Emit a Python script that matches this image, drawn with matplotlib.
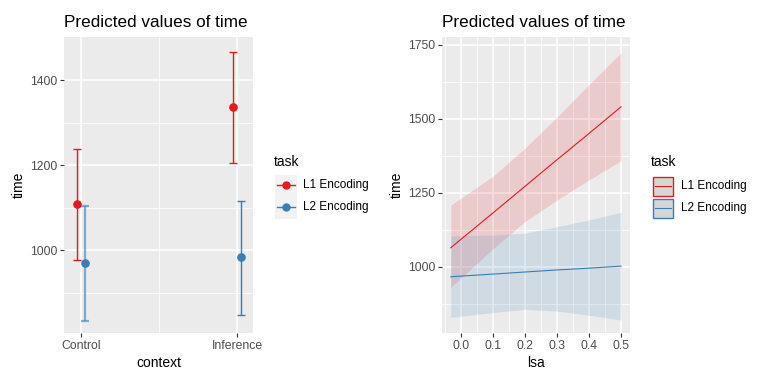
import matplotlib
matplotlib.use('Agg')
import matplotlib.pyplot as plt
from matplotlib.patches import Rectangle
from matplotlib.lines import Line2D
from matplotlib.ticker import FixedLocator

plt.rcParams['font.family'] = ['Liberation Sans', 'DejaVu Sans']

# datos panel izquierdo (context)
contexts = ['Control', 'Inference']
tasks = ['L1 Encoding', 'L2 Encoding']
colors = ['#E41A1C', '#377EB8']
pred = [[1108, 1336], [970, 984]]
ci_low = [[976, 1205], [834, 848]]
ci_high = [[1238, 1467], [1105, 1116]]

# datos panel derecho (lsa)
lsa = [-0.031, 0.1, 0.2, 0.3, 0.4, 0.5]
fit_l1 = [1064, 1181, 1271, 1361, 1450, 1540]
up_l1 = [1208, 1305, 1400, 1505, 1615, 1723]
lo_l1 = [930, 1060, 1152, 1225, 1293, 1358]
fit_l2 = [966, 975, 982, 989, 995, 1002]
up_l2 = [1104, 1107, 1113, 1135, 1158, 1184]
lo_l2 = [829, 845, 856, 850, 836, 820]

W, H = 768, 384
fig = plt.figure(figsize=(W / 100, H / 100), dpi=100)


def rect(x0, y0, x1, y1):
    # pixeles -> fraccion de figura
    return [x0 / W, 1 - y1 / H, (x1 - x0) / W, (y1 - y0) / H]


def estilo(ax):
    ax.set_facecolor('#EBEBEB')
    for s in ax.spines.values():
        s.set_visible(False)
    ax.grid(True, which='major', color='white', lw=1.1)
    ax.grid(True, which='minor', color='white', lw=0.55)
    ax.set_axisbelow(True)
    ax.tick_params(which='major', length=3, width=0.8, color='#333333',
                   labelsize=8.8, labelcolor='#4D4D4D', pad=2)
    ax.tick_params(which='minor', length=0)


# ---- panel izquierdo ----
ax1 = fig.add_axes(rect(64, 37, 253, 333))
estilo(ax1)
dodge = [-0.026, 0.026]
for i, t in enumerate(tasks):
    for j in range(len(contexts)):
        x = j + 1 + dodge[i]
        err = [[pred[i][j] - ci_low[i][j]], [ci_high[i][j] - pred[i][j]]]
        # la barra L2/Control sale mas clara y ancha en el original
        suave = (i == 1 and j == 0)
        ax1.errorbar([x], [pred[i][j]], yerr=err, fmt='none', ecolor=colors[i],
                     elinewidth=1.6 if suave else 1.0, capsize=2.7,
                     capthick=1.6 if suave else 1.0, alpha=0.6 if suave else 1.0)
        ax1.plot([x], [pred[i][j]], 'o', color=colors[i], ms=5.2)
ax1.set_xlim(0.891, 2.10)
ax1.set_ylim(805, 1502)
ax1.set_xticks([1, 2])
ax1.set_xticklabels(contexts)
ax1.xaxis.set_minor_locator(FixedLocator([1.5]))
ax1.set_yticks([1000, 1200, 1400])
ax1.yaxis.set_minor_locator(FixedLocator([900, 1100, 1300]))
ax1.set_xlabel('context', fontsize=10, labelpad=3)
ax1.set_ylabel('time', fontsize=10, labelpad=3)
ax1.set_title('Predicted values of time', loc='left', fontsize=12.3, pad=7)

# ---- panel derecho ----
ax2 = fig.add_axes(rect(442.3, 36.7, 630, 333.3))
estilo(ax2)
ax2.fill_between(lsa, lo_l1, up_l1, color=colors[0], alpha=0.15, lw=0)
ax2.fill_between(lsa, lo_l2, up_l2, color=colors[1], alpha=0.15, lw=0)
ax2.plot(lsa, fit_l1, color=colors[0], lw=0.8)
ax2.plot(lsa, fit_l2, color=colors[1], lw=0.8)
ax2.set_xlim(-0.0574, 0.528)
ax2.set_ylim(775, 1777)
ax2.set_xticks([0, 0.1, 0.2, 0.3, 0.4, 0.5])
ax2.set_xticklabels(['0.0', '0.1', '0.2', '0.3', '0.4', '0.5'])
ax2.xaxis.set_minor_locator(FixedLocator([-0.05, 0.05, 0.15, 0.25, 0.35, 0.45]))
ax2.set_yticks([1000, 1250, 1500, 1750])
ax2.yaxis.set_minor_locator(FixedLocator([875, 1125, 1375, 1625]))
ax2.set_xlabel('lsa', fontsize=10, labelpad=3)
ax2.set_ylabel('time', fontsize=10, labelpad=3)
ax2.set_title('Predicted values of time', loc='left', fontsize=12.3, pad=7)


# ---- leyendas (dibujadas a mano) ----
def px(x, y):
    return x / W, 1 - y / H


tf = fig.transFigure

# izquierda
fig.text(*px(274, 162), 'task', fontsize=10, va='center', ha='left')
fig.patches.append(Rectangle(px(274.7, 219), 22 / W, 44 / H, transform=tf,
                             facecolor='#F2F2F2', edgecolor='none'))
for i, t in enumerate(tasks):
    yk = 185 + 22 * i
    x0, y0 = px(276.5, yk)
    x1, _ = px(295, yk)
    fig.lines.append(Line2D([x0, x1], [y0, y0], transform=tf, color=colors[i], lw=1.0))
    fig.lines.append(Line2D([(x0 + x1) / 2], [y0], transform=tf, color=colors[i],
                            marker='o', ms=5, lw=0))
    fig.text(*px(303.3, yk), t, fontsize=8.5, va='center', ha='left')

# derecha
fig.text(*px(650.7, 162), 'task', fontsize=10, va='center', ha='left')
for i, t in enumerate(tasks):
    yt = 176.7 + 22 * i
    fig.patches.append(Rectangle(px(653, yt + 19.5), 19.5 / W, 19.5 / H, transform=tf,
                                 facecolor='#D6D6D6', edgecolor=colors[i], lw=1.0))
    x0, y0 = px(655, yt + 9.75)
    x1, _ = px(670.5, yt + 9.75)
    fig.lines.append(Line2D([x0, x1], [y0, y0], transform=tf, color=colors[i], lw=0.8))
    fig.text(*px(680.7, yt + 9.75), t, fontsize=8.5, va='center', ha='left')

fig.savefig('out.png', dpi=100, facecolor='white')
